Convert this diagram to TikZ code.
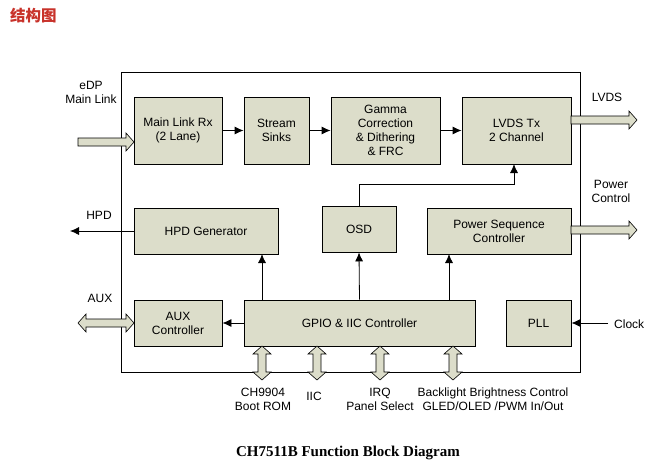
\documentclass[tikz,border=0pt]{standalone}
\usepackage{fontspec}
\setmainfont{Liberation Sans}
\newfontfamily\cjk{Noto Sans CJK SC}
\newfontfamily\serifx{Liberation Serif}
\usetikzlibrary{calc,arrows.meta}
\definecolor{boxfill}{HTML}{DCDDCA}
\definecolor{titred}{HTML}{C8322A}
\tikzset{
 blk/.style={draw,fill=boxfill,line width=0.8pt,align=center,inner sep=0pt,font=\fontsize{12}{14}\selectfont},
 lbl/.style={align=center,font=\fontsize{12}{14}\selectfont,inner sep=0pt},
 arr/.style={-{Latex[length=9pt,width=8pt]},line width=0.8pt},
 fat/.style={draw,fill=boxfill,line width=0.6pt}
}
\newcommand\fatarrow[3]{%
 \draw[fat,shift={#1},rotate=#2] (0,-4) -- ({#3-8},-4) -- ({#3-8},-9) -- (#3,0) -- ({#3-8},9) -- ({#3-8},4) -- (0,4) -- cycle;}
\newcommand\fatdouble[3]{%
 \draw[fat,shift={#1},rotate=#2] (8,-4) -- ({#3-8},-4) -- ({#3-8},-9) -- (#3,0) -- ({#3-8},9) -- ({#3-8},4) -- (8,4) -- (8,9) -- (0,0) -- (8,-9) -- cycle;}
\begin{document}
\begin{tikzpicture}[x=1pt,y=-1pt]
\useasboundingbox (0,0) rectangle (670,469);
\node[font=\cjk\bfseries\fontsize{15.5}{17}\selectfont,text=titred,anchor=west,inner sep=0pt] (tt) at (10,16) {结构图};
\draw[line width=0.8pt] (121,72) rectangle (580,372);
\node[blk,minimum width=88pt,minimum height=67pt] (rx) at (178,130.5) {Main Link Rx\\(2 Lane)};
\node[blk,minimum width=65pt,minimum height=67pt] (ss) at (276.5,130.5) {Stream\\Sinks};
\node[blk,minimum width=109pt,minimum height=67pt] (gm) at (385.5,130.5) {Gamma\\Correction\\\& Dithering\\\& FRC};
\node[blk,minimum width=109pt,minimum height=67pt] (tx) at (516.5,130.5) {LVDS Tx\\2 Channel};
\node[blk,minimum width=144pt,minimum height=46pt] (hpd) at (206,231) {HPD Generator};
\node[blk,minimum width=74pt,minimum height=46pt] (osd) at (359,229) {OSD};
\node[blk,minimum width=144pt,minimum height=46pt] (ps) at (499,231) {Power Sequence\\Controller};
\node[blk,minimum width=88pt,minimum height=46pt] (aux) at (178,323) {AUX\\Controller};
\node[blk,minimum width=231pt,minimum height=46pt] (gp) at (359.5,323) {GPIO \& IIC Controller};
\node[blk,minimum width=65pt,minimum height=46pt] (pll) at (538.5,323) {PLL};
\draw[arr] (rx) -- (ss);
\draw[arr] (ss) -- (gm);
\draw[arr] (gm) -- (tx);
\draw[arr] (osd.north) -- ++(0,-21) -| (514,164);
\draw[arr] (gp.north -| 262,0) -- (262,254);
\draw[arr] (gp.north) -- (osd.south);
\draw[arr] (gp.north -| 449,0) -- (449,254);
\draw[arr] (gp.west) -- (aux.east);
\coordinate (hpdo) at (70,231);
\draw[arr] (hpd.west) -- (hpdo);
\coordinate (clk) at (608,323);
\draw[arr] (clk) -- (pll.east);
\fatarrow{(78,142)}{0}{56}
\fatarrow{(571,120)}{0}{66}
\fatarrow{(571,230)}{0}{66}
\fatdouble{(78,323)}{0}{56}
\foreach \x in {262,317,380,453} {\fatdouble{(\x,380)}{90}{34}}
\node[lbl] (l1) at (91,92) {eDP\\Main Link};
\node[lbl] (l2) at (99,215) {HPD};
\node[lbl] (l3) at (100,298) {AUX};
\node[lbl] (l4) at (607,97) {LVDS};
\node[lbl] (l5) at (611,191) {Power\\Control};
\node[lbl,anchor=west] (l6) at (614,324) {Clock};
\node[lbl] (b1) at (263,399) {CH9904\\Boot ROM};
\node[lbl] (b2) at (314,396) {IIC};
\node[lbl] (b3) at (380,399) {IRQ\\Panel Select};
\node[lbl] (b4) at (493,399) {Backlight Brightness Control\\GLED/OLED /PWM In/Out};
\node[font=\serifx\bfseries\fontsize{15}{17}\selectfont] (ttl) at (348,453) {CH7511B Function Block Diagram};
\end{tikzpicture}
\end{document}
